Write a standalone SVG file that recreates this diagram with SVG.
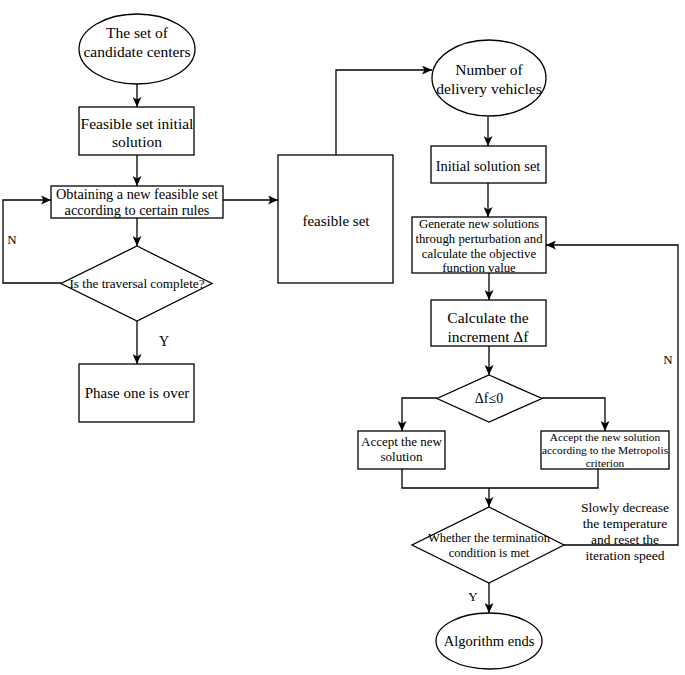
<svg xmlns="http://www.w3.org/2000/svg" width="685" height="675" viewBox="0 0 685 675">
<style>
.s{fill:#fff;stroke:#000;stroke-width:1.3}
.c{fill:none;stroke:#000;stroke-width:1.3}
text{font-family:"Liberation Serif","Times New Roman",serif;fill:#000;text-anchor:middle}
</style>
<defs>
<marker id="a" markerUnits="userSpaceOnUse" markerWidth="10" markerHeight="9" refX="10" refY="4.5" orient="auto">
<path d="M0,0 L10,4.5 L0,9 L2.5,4.5 z" fill="#000"/>
</marker>
</defs>
<rect width="685" height="675" fill="#fff"/>
<g id="connectors">
<path class="c" d="M137,83 V107" marker-end="url(#a)"/>
<path class="c" d="M137,155 V186" marker-end="url(#a)"/>
<path class="c" d="M137,218 V246" marker-end="url(#a)"/>
<path class="c" d="M61,283 H3 V200 H51" marker-end="url(#a)"/>
<path class="c" d="M137,321 V364" marker-end="url(#a)"/>
<path class="c" d="M223,200 H278" marker-end="url(#a)"/>
<path class="c" d="M336,155 V70 H432" marker-end="url(#a)"/>
<path class="c" d="M488,117 V146" marker-end="url(#a)"/>
<path class="c" d="M488,183 V217" marker-end="url(#a)"/>
<path class="c" d="M489,273 V300" marker-end="url(#a)"/>
<path class="c" d="M489,346 V375" marker-end="url(#a)"/>
<path class="c" d="M437,398 H402 V431" marker-end="url(#a)"/>
<path class="c" d="M542,398 H605 V431" marker-end="url(#a)"/>
<path class="c" d="M402,469 V488 H598 V469"/>
<path class="c" d="M489,488 V507" marker-end="url(#a)"/>
<path class="c" d="M489,583 V613" marker-end="url(#a)"/>
<path class="c" d="M564,545 H678 V245 H546" marker-end="url(#a)"/>
<text x="12" y="244" font-size="13">N</text>
<text x="164" y="346" font-size="14">Y</text>
<text x="668" y="364" font-size="13">N</text>
<text x="473" y="601" font-size="13">Y</text>
<text font-size="13.5"><tspan x="625" y="512">Slowly decrease</tspan><tspan x="625" y="528">the temperature</tspan><tspan x="625" y="544">and reset the</tspan><tspan x="625" y="560">iteration speed</tspan></text>
</g>
<g id="n1">
<ellipse class="s" cx="137" cy="49" rx="58" ry="35"/>
<text font-size="15.5"><tspan x="137" y="38">The set of</tspan><tspan x="137" y="57">candidate centers</tspan></text>
</g>
<g id="n2">
<rect class="s" x="79" y="107" width="115" height="48"/>
<text font-size="15.5"><tspan x="137" y="129">Feasible set initial</tspan><tspan x="137" y="147">solution</tspan></text>
</g>
<g id="n3">
<rect class="s" x="51" y="186" width="172" height="32"/>
<text font-size="14.3"><tspan x="137" y="199">Obtaining a new feasible set</tspan><tspan x="137" y="215">according to certain rules</tspan></text>
</g>
<g id="n4">
<polygon class="s" points="137,246 212,283.5 137,321 61,283.5"/>
<text x="137" y="288" font-size="13.2">Is the traversal complete?</text>
</g>
<g id="n5">
<rect class="s" x="79" y="364" width="115" height="58"/>
<text x="137" y="398" font-size="15">Phase one is over</text>
</g>
<g id="n6">
<rect class="s" x="278" y="155" width="115" height="128"/>
<text x="336" y="226" font-size="15">feasible set</text>
</g>
<g id="n7">
<ellipse class="s" cx="489" cy="78" rx="57" ry="38"/>
<text font-size="15.5"><tspan x="489" y="75">Number of</tspan><tspan x="489" y="94">delivery vehicles</tspan></text>
</g>
<g id="n8">
<rect class="s" x="431" y="146" width="115" height="37"/>
<text x="488" y="171" font-size="14.5">Initial solution set</text>
</g>
<g id="n9">
<rect class="s" x="412" y="217" width="134" height="56"/>
<text font-size="12.8"><tspan x="479" y="228">Generate new solutions</tspan><tspan x="479" y="243">through perturbation and</tspan><tspan x="479" y="258">calculate the objective</tspan><tspan x="479" y="272">function value</tspan></text>
</g>
<g id="n10">
<rect class="s" x="431" y="300" width="115" height="46"/>
<text font-size="15.5"><tspan x="488" y="323">Calculate the</tspan><tspan x="488" y="342">increment Δf</tspan></text>
</g>
<g id="n11">
<polygon class="s" points="489,375 542,398.5 489,422 437,398.5"/>
<text x="489" y="403" font-size="14">Δf≤0</text>
</g>
<g id="n12">
<rect class="s" x="358" y="431" width="87" height="38"/>
<text font-size="13"><tspan x="401.5" y="446">Accept the new</tspan><tspan x="401.5" y="461">solution</tspan></text>
</g>
<g id="n13">
<rect class="s" x="541" y="431" width="128" height="38"/>
<text font-size="11.4"><tspan x="605" y="441">Accept the new solution</tspan><tspan x="605" y="454">according to the Metropolis</tspan><tspan x="605" y="467">criterion</tspan></text>
</g>
<g id="n14">
<polygon class="s" points="489,507 564,545 489,583 412,545"/>
<text font-size="12.5"><tspan x="489" y="542">Whether the termination</tspan><tspan x="489" y="557">condition is met</tspan></text>
</g>
<g id="n15">
<ellipse class="s" cx="489" cy="641" rx="53" ry="28"/>
<text x="489" y="646" font-size="14.5">Algorithm ends</text>
</g>
</svg>
